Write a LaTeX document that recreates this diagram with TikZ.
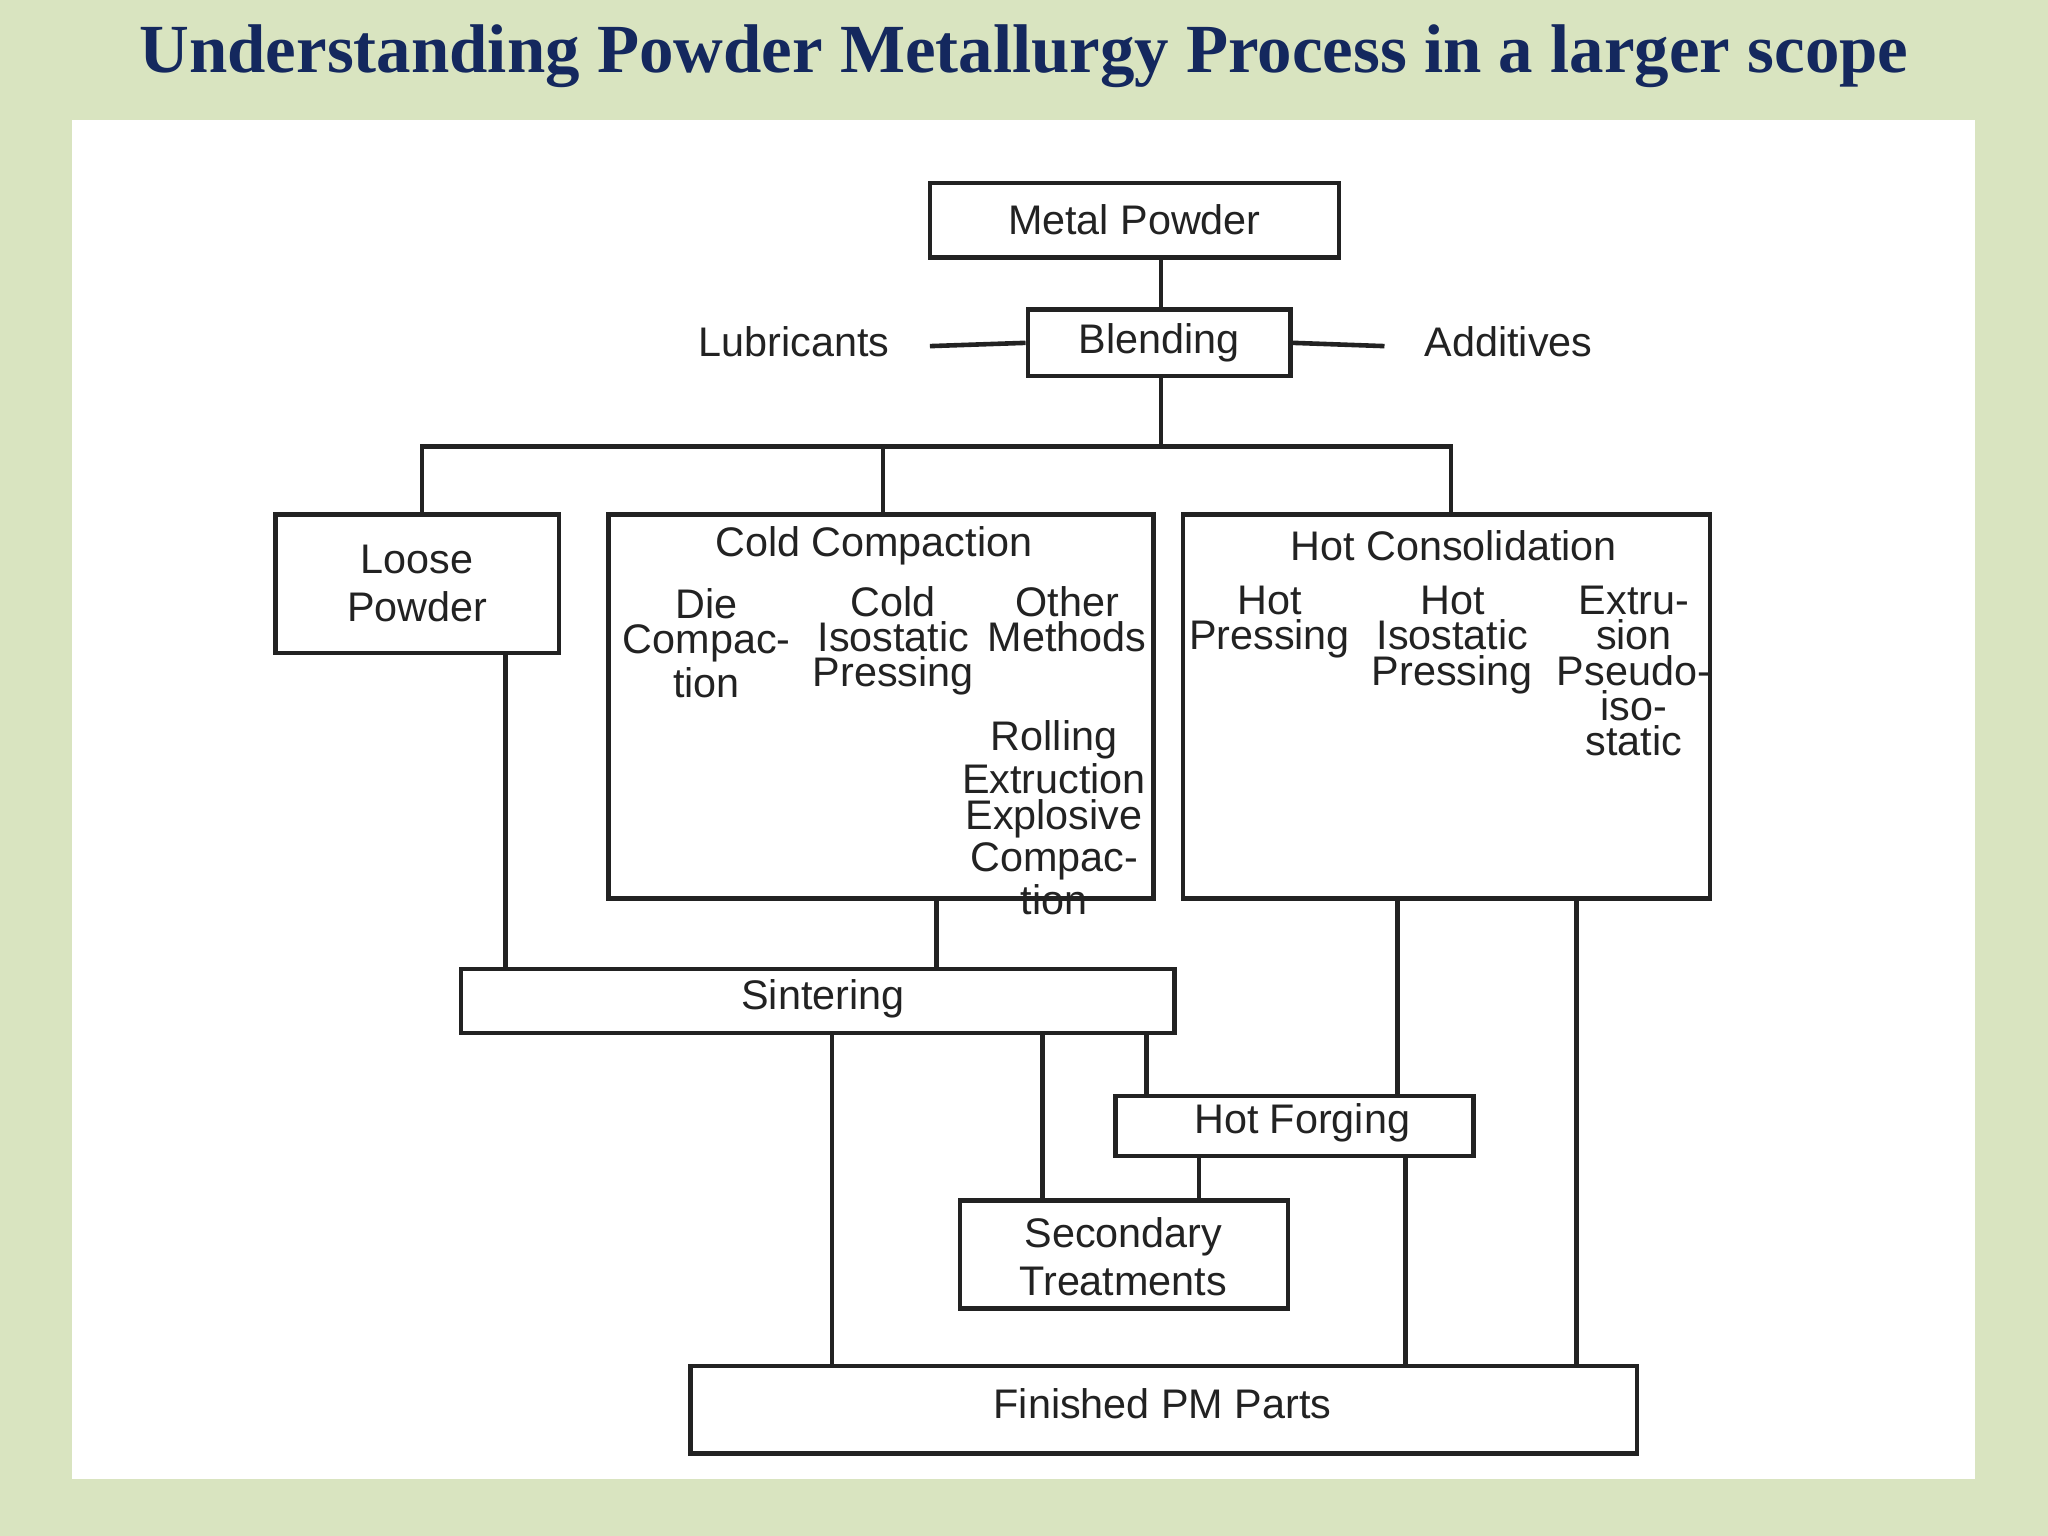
\documentclass[tikz,border=0pt]{standalone}
\usepackage{fontspec}
\setmainfont{Liberation Sans}
\newfontfamily\titlefont{Liberation Serif}
\definecolor{bgg}{HTML}{D9E4C0}
\definecolor{navy}{HTML}{14285E}
\definecolor{ln}{HTML}{222222}
\begin{document}
\begin{tikzpicture}[x=0.01cm,y=-0.01cm,
  box/.style={draw=ln,line width=1pt,inner sep=0pt,fill=white},
  txt/.style={inner sep=0pt,align=center,font=\fontsize{9}{10.5}\selectfont,text=ln},
  sub/.style={inner sep=0pt,align=center,font=\fontsize{9}{7.7}\selectfont,text=ln},
  ed/.style={draw=ln,line width=1pt}]
\fill[bgg] (0,0) rectangle (1568,1176);
\useasboundingbox (0,0) rectangle (1568,1176);
\fill[white] (55,92) rectangle (1512,1132);
\node[inner sep=0pt,text=navy,font=\titlefont\bfseries\fontsize{15}{18}\selectfont] (title) at (784,43) {Understanding Powder Metallurgy Process in a larger scope};
% boxes
\node[box,minimum width=3.13cm,minimum height=0.57cm] (mp) at (868.5,168.5) {};
\node[txt] at (mp) {Metal Powder};
\node[box,minimum width=2.01cm,minimum height=0.51cm] (bl) at (887.5,262.5) {};
\node[txt] at (bl) {Blending};
\node[txt] (lub) at (608,262) {Lubricants};
\node[txt] (add) at (1155,262) {Additives};
\coordinate (lubE) at (712,265);
\coordinate (addW) at (1060,265);
\node[box,minimum width=2.17cm,minimum height=1.06cm] (lp) at (319.5,447) {};
\node[txt] at (lp) {Loose\\Powder};
\node[box,minimum width=4.17cm,minimum height=2.94cm] (cc) at (674.5,541) {};
\node[txt] at (669,418) {Cold Compaction};
\node[sub,anchor=north] at (541,450) {Die\\Compac-\\tion};
\node[sub,anchor=north] at (684,448) {Cold\\Isostatic\\Pressing};
\node[sub,anchor=north] at (817,448) {Other\\Methods};
\node[sub,anchor=north] at (807,551) {Rolling\\Extruction\\Explosive\\Compac-\\tion};
\node[box,minimum width=4.03cm,minimum height=2.94cm] (hc) at (1107.5,541) {};
\node[txt] at (1113,418) {Hot Consolidation};
\node[sub,anchor=north] at (972,448) {Hot\\Pressing};
\node[sub,anchor=north] at (1112,448) {Hot\\Isostatic\\Pressing};
\node[sub,anchor=north] at (1251,448) {Extru-\\sion\\Pseudo-\\iso-\\static};
\node[box,minimum width=5.46cm,minimum height=0.49cm] (si) at (626,766.5) {};
\node[txt] at (630,765) {Sintering};
\node[box,minimum width=2.74cm,minimum height=0.46cm] (hf) at (991,862) {};
\node[txt] at (997,860) {Hot Forging};
\node[box,minimum width=2.51cm,minimum height=0.83cm] (st) at (860.5,960.5) {};
\node[txt] at (860,962) {Secondary\\Treatments};
\node[box,minimum width=7.24cm,minimum height=0.67cm] (fp) at (891,1079.5) {};
\node[txt] at (890,1075) {Finished PM Parts};
% connectors
\draw[ed] (mp.south -| 889,0) -- (bl.north -| 889,0);
\draw[ed] (lubE) -- (bl.west);
\draw[ed] (bl.east) -- (addW);
\draw[ed] (bl.south -| 889,0) -- (889,342);
\draw[ed] (lp.north -| 323,0) -- (323,342) -- (1111,342) -- (hc.north -| 1111,0);
\draw[ed] (676,342) -- (cc.north -| 676,0);
\draw[ed] (lp.south -| 387,0) -- (si.north -| 387,0);
\draw[ed] (cc.south -| 717,0) -- (si.north -| 717,0);
\draw[ed] (si.south -| 637,0) -- (fp.north -| 637,0);
\draw[ed] (si.south -| 798,0) -- (st.north -| 798,0);
\draw[ed] (si.south -| 878,0) -- (hf.north -| 878,0);
\draw[ed] (hf.south -| 918,0) -- (st.north -| 918,0);
\draw[ed] (hf.south -| 1076,0) -- (fp.north -| 1076,0);
\draw[ed] (hc.south -| 1070,0) -- (hf.north -| 1070,0);
\draw[ed] (hc.south -| 1207,0) -- (fp.north -| 1207,0);
\end{tikzpicture}
\end{document}
